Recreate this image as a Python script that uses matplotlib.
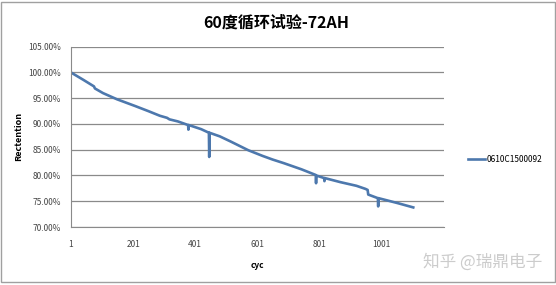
import matplotlib.pyplot as plt
from matplotlib.patches import Rectangle
from matplotlib.ticker import FuncFormatter

plt.rcParams['font.family'] = ['Noto Sans CJK SC', 'DejaVu Sans']

# --- dados ---
cycles = [1, 40, 75, 78, 104, 149, 207, 250, 287, 310, 318, 345, 378, 379, 380,
          420, 445, 446, 447, 480, 515, 572, 618, 650, 686, 743, 789, 790, 791,
          816, 817, 818, 869, 920, 949, 956, 958, 989, 990, 991, 1052, 1103]
retention = [100.0, 98.6, 97.3, 96.9, 96.0, 94.8, 93.5, 92.5, 91.6, 91.2, 90.9, 90.5, 89.8, 88.9, 89.8,
             89.0, 88.3, 83.6, 88.3, 87.6, 86.6, 84.9, 83.8, 83.1, 82.4, 81.2, 80.1, 78.5, 80.0,
             79.5, 78.9, 79.5, 78.7, 78.0, 77.4, 77.2, 76.3, 75.6, 74.0, 75.6, 74.65, 73.8]
series_name = '0610C1500092'
x_ticks = [1, 201, 401, 601, 801, 1001]
y_ticks = [70, 75, 80, 85, 90, 95, 100, 105]

fig = plt.figure(figsize=(5.56, 2.85), dpi=100)
ax = fig.add_axes([0.1277, 0.2035, 0.6709, 0.6325])

line, = ax.plot(cycles, retention, color='#4D78AD', lw=1.9, label=series_name)

ax.set_xlim(1, 1202)
ax.set_ylim(70, 105)
ax.set_xticks(x_ticks)
ax.set_yticks(y_ticks)
ax.yaxis.set_major_formatter(FuncFormatter(lambda v, p: f'{v:.2f}%'))
ax.tick_params(axis='both', length=0, labelsize=6, colors='#444444')
ax.tick_params(axis='y', pad=7)
ax.tick_params(axis='x', pad=9)
ax.grid(axis='y', color='#8a8a8a', lw=0.9)
ax.set_axisbelow(True)
for s in ['top', 'right']:
    ax.spines[s].set_visible(False)
ax.spines['left'].set_color('#8a8a8a')
ax.spines['bottom'].set_color('#8a8a8a')

ax.set_xlabel('cyc', fontsize=6, fontweight='bold', labelpad=9)
ax.set_ylabel('Rectention', fontsize=6.5, fontweight='bold', labelpad=4)

fig.text(0.497, 0.922, '60度循环试验-72AH', ha='center', va='center',
         fontsize=11.5, fontweight='bold')

fig.legend(handles=[line], loc='center left', bbox_to_anchor=(0.828, 0.44),
           frameon=False, fontsize=6, handlelength=2.0, handletextpad=0.2)

# borda da área do gráfico
fig.patches.append(Rectangle((0.002, 0.012), 0.996, 0.98, transform=fig.transFigure,
                             fill=False, ec='#a0a0a0', lw=1))

fig.text(0.975, 0.08, '知乎 @瑞鼎电子', ha='right', va='center', fontsize=12,
         color='#cccccc')

fig.savefig('out.png', dpi=100)
